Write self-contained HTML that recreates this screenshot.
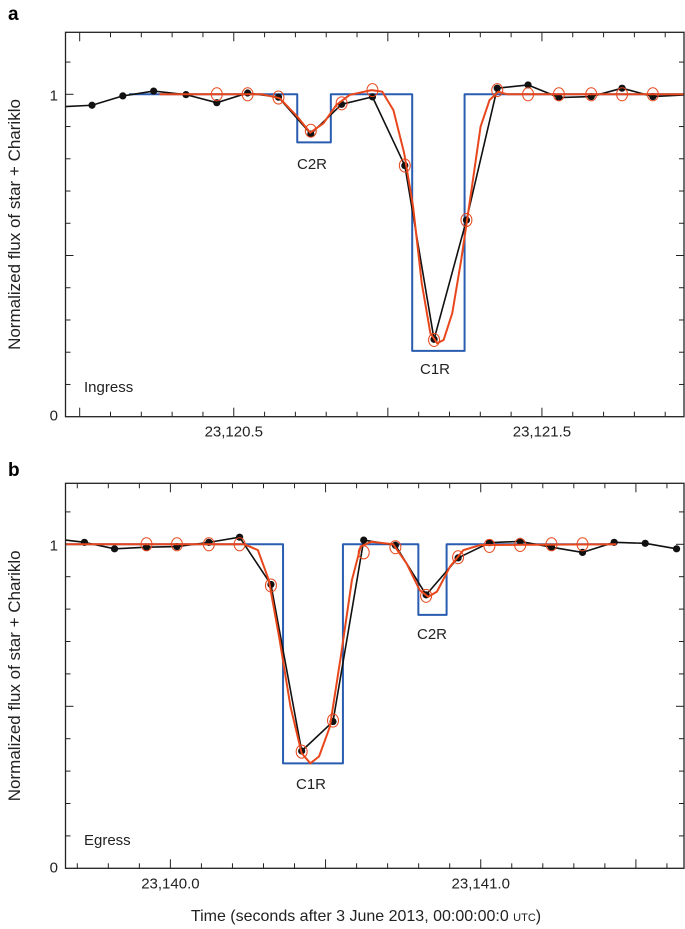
<!DOCTYPE html>
<html><head><meta charset="utf-8"><style>
body{margin:0;background:#fff;}
svg{display:block;font-family:"Liberation Sans",Arial,sans-serif;}
</style></head><body>
<svg id="chart" width="685" height="929" viewBox="0 0 685 929"></svg>
<script>
// Panel a (Ingress) data
const aObsT = [23119.954,23120.04,23120.14,23120.24,23120.345,23120.445,23120.545,23120.645,23120.75,23120.85,23120.95,23121.055,23121.15,23121.255,23121.355,23121.455,23121.555,23121.66,23121.76,23121.86,23121.961];
const aObsV = [0.962,0.966,0.995,1.010,0.999,0.974,1.004,0.991,0.877,0.969,0.992,0.779,0.240,0.610,1.019,1.029,0.990,0.993,1.019,0.993,0.998];
const aSynT = [23120.445,23120.545,23120.645,23120.75,23120.85,23120.95,23121.055,23121.15,23121.255,23121.355,23121.455,23121.555,23121.66,23121.76,23121.86];
const aSynV = [1.0,1.0,0.99,0.887,0.972,1.013,0.779,0.238,0.610,1.013,1.0,1.0,1.0,1.0,1.0];
const aStepT = [23120.16,23120.706,23120.706,23120.815,23120.815,23121.079,23121.079,23121.249,23121.249,23121.961];
const aStepV = [1,1,0.851,0.851,1,1,0.204,0.204,1,1];
const aModT = [23120.259,23120.592,23120.649,23120.706,23120.748,23120.791,23120.833,23120.876,23120.947,23120.982,23121.018,23121.053,23121.082,23121.11,23121.138,23121.16,23121.181,23121.209,23121.238,23121.273,23121.301,23121.33,23121.358,23121.387,23121.961];
const aModV = [1.0,1.0,0.988,0.931,0.881,0.91,0.967,0.998,1.013,1.008,0.951,0.817,0.651,0.414,0.259,0.228,0.238,0.321,0.486,0.714,0.9,0.982,1.008,1.0,1.0];
const aTickLabels = ["23,120.5","23,121.5"];
const aTickVals = [23120.5,23121.5];
// Panel b (Egress) data
const bObsT = [23139.662,23139.723,23139.82,23139.923,23140.021,23140.124,23140.223,23140.324,23140.423,23140.524,23140.623,23140.725,23140.824,23140.927,23141.028,23141.127,23141.228,23141.328,23141.43,23141.53,23141.631];
const bObsV = [1.013,1.006,0.986,0.991,0.993,1.006,1.022,0.876,0.362,0.453,1.013,0.997,0.844,0.958,1.005,1.009,0.991,0.975,1.006,1.003,0.986];
const bSynT = [23139.923,23140.021,23140.124,23140.223,23140.324,23140.423,23140.524,23140.623,23140.725,23140.824,23140.927,23141.028,23141.127,23141.228,23141.328];
const bSynV = [1.0,1.0,1.0,1.0,0.873,0.360,0.456,0.975,0.991,0.841,0.960,0.995,0.998,1.0,1.0];
const bStepT = [23139.662,23140.363,23140.363,23140.556,23140.556,23140.799,23140.799,23140.89,23140.89,23141.437];
const bStepV = [1,1,0.324,0.324,1,1,0.782,0.782,1,1];
const bModT = [23139.662,23140.239,23140.282,23140.317,23140.352,23140.387,23140.423,23140.451,23140.479,23140.514,23140.549,23140.585,23140.613,23140.648,23140.718,23140.761,23140.803,23140.831,23140.859,23140.901,23140.944,23141.0,23141.437];
const bModV = [1.0,1.0,0.982,0.89,0.705,0.499,0.355,0.324,0.345,0.437,0.653,0.89,0.993,1.008,1.0,0.941,0.859,0.838,0.854,0.931,0.982,0.998,1.0];
const bTickLabels = ["23,140.0","23,141.0"];
const bTickVals = [23140.0,23141.0];

const NS="http://www.w3.org/2000/svg";
const svg=document.getElementById('chart');
function mk(tag,attrs,parent){const e=document.createElementNS(NS,tag);for(const k in attrs)e.setAttribute(k,attrs[k]);(parent||svg).appendChild(e);return e;}

function panel(cfg){
  const g=mk('g',{});
  
  
  const L=65.5,R=684,T=cfg.top,B=cfg.bottom,y1=cfg.y1;
  const sx=t=>L+(t-cfg.t0)/(cfg.t1-cfg.t0)*(R-L);
  const sy=v=>B-v*(B-y1);
  const tg=mk('g',{stroke:'#222','stroke-width':1},g);
  
  
  for(let k=Math.ceil(cfg.t0*10);k<=cfg.t1*10;k++){
    const x=sx(k/10);const major=(k%5===0);const len=major?9:5;
    mk('line',{x1:x,x2:x,y1:B,y2:B-len},tg);mk('line',{x1:x,x2:x,y1:T,y2:T+len},tg);
  }
  for(let k=1;k<=11;k++){const y=sy(k/10);if(y<T+2)continue;const len=(k%5===0)?8:5;
    mk('line',{x1:L,x2:L+len,y1:y,y2:y},tg);mk('line',{x1:R,x2:R-len,y1:y,y2:y},tg);}
  const path=(T_,V_,attrs,name)=>{const p=mk('polyline',Object.assign({points:T_.map((t,i)=>sx(t)+','+sy(V_[i])).join(' '),fill:'none','stroke-linejoin':'round'},attrs),g);
    
    return p;};
  path(cfg.stepT,cfg.stepV,{stroke:'#2a5db0','stroke-width':2},'square-well-model');
  path(cfg.obsT,cfg.obsV,{stroke:'#111','stroke-width':1.6},'observed-lightcurve');
  cfg.obsT.forEach((t,i)=>{const x=sx(t);if(x<L+3||x>R-3)return;
    const c=mk('circle',{cx:x,cy:sy(cfg.obsV[i]),r:3.6,fill:'#111'},g);
    
    });
  path(cfg.modT,cfg.modV,{stroke:'#e8471c','stroke-width':2},'diffraction-model-curve');
  cfg.synT.forEach((t,i)=>{const c=mk('ellipse',{cx:sx(t),cy:sy(cfg.synV[i]),rx:5.5,ry:6.5,fill:'none',stroke:'#e8471c','stroke-width':1},g);
    
    });
  const fr=mk('rect',{x:L,y:T,width:R-L,height:B-T,fill:'none',stroke:'#222','stroke-width':1.3},g);
  
  
  const txt=(x,y,s,attrs,name)=>{const e=mk('text',Object.assign({x:x,y:y,'font-size':15,fill:'#222'},attrs),g);e.textContent=s;
    
    return e;};
  cfg.tickVals.forEach((v,i)=>txt(sx(v),B+20,cfg.tickLabels[i],{'text-anchor':'middle'},'x-tick-label'));
  txt(58,sy(1)+6,'1',{'text-anchor':'end'},'y-tick-label');
  txt(58,B+4,'0',{'text-anchor':'end'},'y-tick-label');
  cfg.labels.forEach(l=>txt(l[0],l[1],l[2],{'text-anchor':l[3]||'middle'},'annotation-'+l[2].toLowerCase()));
  txt(8,cfg.letterY,cfg.letter,{'font-size':19,'font-weight':'bold',fill:'#000'},'panel-label');
  txt(0,0,'Normalized flux of star + Chariklo',{'text-anchor':'middle','font-size':17,transform:`translate(20,${(T+B)/2}) rotate(-90)`},'y-axis-title');
}
panel({name:'panel-a-ingress',top:32.3,bottom:416.7,y1:94.3,t0:23119.954,t1:23121.961,
  obsT:aObsT,obsV:aObsV,synT:aSynT,synV:aSynV,stepT:aStepT,stepV:aStepV,modT:aModT,modV:aModV,
  tickVals:aTickVals,tickLabels:aTickLabels,letter:'a',letterY:20,
  labels:[[312,169,'C2R'],[435,374,'C1R'],[84,392,'Ingress','start']]});
panel({name:'panel-b-egress',top:483.3,bottom:868.3,y1:544.3,t0:23139.662,t1:23141.655,
  obsT:bObsT,obsV:bObsV,synT:bSynT,synV:bSynV,stepT:bStepT,stepV:bStepV,modT:bModT,modV:bModV,
  tickVals:bTickVals,tickLabels:bTickLabels,letter:'b',letterY:476,
  labels:[[311,789,'C1R'],[432,639,'C2R'],[84,845,'Egress','start']]});
const xt=mk('text',{x:366,y:921,'text-anchor':'middle','font-size':16,fill:'#222'});


xt.innerHTML='Time (seconds after 3 June 2013, 00:00:00:0 <tspan font-size="11">UTC</tspan>)';
</script>
</body></html>
